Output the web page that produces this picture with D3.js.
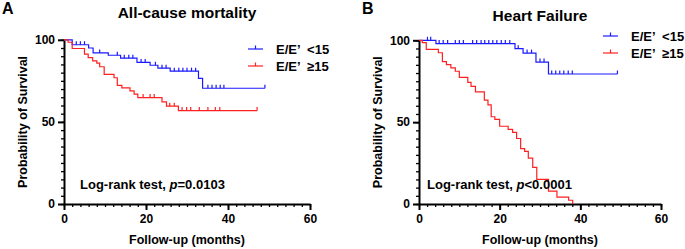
<!DOCTYPE html>
<html>
<head>
<meta charset="utf-8">
<script src="https://cdn.jsdelivr.net/npm/d3@7"></script>
<style>
  body { margin: 0; background: #fff; }
  text { font-family: "Liberation Sans", Arial, sans-serif; font-weight: bold; fill: #000; }
</style>
</head>
<body>
<div id="chart"></div>
<script>
// Panel A: all-cause mortality
const aLowTimes = [0, 2.0, 6.0, 7.1, 10.8, 13.8, 17.8, 21.0, 22.9, 25.9, 32.8, 33.8];
const aLowSurv = [100, 97.0, 95.0, 92.0, 90.6, 88.8, 86.2, 84.5, 82.7, 80.9, 76.5, 70.5];
const aLowCensor = [3.0, 4.0, 5.0, 8.7, 13.0, 14.7, 15.8, 16.8, 18.8, 19.8, 22.3, 23.9, 24.9, 26.9, 28.0, 29.0, 30.0, 31.1, 32.1, 35.1, 36.1, 37.1, 38.1, 39.0, 49.0];
const aHighTimes = [0, 1.0, 2.0, 5.0, 5.9, 7.0, 8.0, 8.7, 9.8, 12.2, 13.0, 14.1, 16.1, 17.1, 18.0, 23.9, 25.0, 27.9];
const aHighSurv = [100, 98.5, 94.7, 91.3, 89.2, 87.2, 85.8, 83.6, 79.0, 76.9, 72.3, 70.7, 68.9, 66.9, 64.8, 62.2, 59.6, 56.9];
const aHighCensor = [19.3, 21.0, 22.0, 25.8, 26.9, 28.8, 29.9, 30.9, 33.0, 35.1, 36.9, 38.0, 47.1];

// Panel B: heart failure
const bLowTimes = [0, 4.2, 23.8, 25.8, 29.0, 32.1];
const bLowSurv = [100, 98.0, 94.9, 92.2, 86.7, 79.4];
const bLowCensor = [2.1, 2.9, 5.0, 6.0, 7.1, 9.0, 10.0, 11.0, 13.3, 14.3, 15.4, 16.3, 17.3, 18.3, 19.3, 20.4, 21.4, 22.5, 24.6, 26.8, 27.9, 30.0, 31.0, 32.9, 33.9, 34.9, 35.9, 37.0, 38.0, 49.2];
const bHighTimes = [0, 0.8, 1.8, 4.8, 5.8, 6.8, 7.9, 9.0, 10.0, 12.1, 12.9, 14.0, 16.2, 17.1, 17.9, 18.8, 20.0, 22.1, 23.2, 24.2, 25.2, 26.2, 27.1, 28.2, 29.2, 32.1, 34.2, 37.1, 38.1];
const bHighSurv = [100, 98.6, 94.4, 92.4, 87.0, 85.2, 83.1, 81.1, 77.4, 74.3, 71.8, 68.5, 63.4, 60.5, 53.3, 51.7, 47.5, 45.6, 43.8, 40.0, 33.8, 32.1, 28.0, 22.4, 15.1, 7.9, 4.2, 2.3, 0];
const bHighCensor = [];

const xTicks = [0, 20, 40, 60];
const yTicks = [0, 50, 100];
const legendLabels = ["E/E\u2019  <15", "E/E\u2019  \u226515"];

const blue = "#1a1aff";
const red = "#ff2020";

const width = 685;
const height = 249;

const svg = d3.select("#chart").append("svg")
    .attr("width", width)
    .attr("height", height)
    .attr("viewBox", [0, 0, width, height]);

// survival level at time t (step function)
function survAt(times, surv, t) {
    let s = surv[0];
    for (let i = 0; i < times.length; i++) {
        if (times[i] <= t) s = surv[i];
    }
    return s;
}

function drawPanel(p) {
    const x = d3.scaleLinear().domain([0, 60]).range([p.left, p.right]);
    const y = d3.scaleLinear().domain([0, 100]).range([p.bottom, p.top]);
    const g = svg.append("g");

    // minor ticks
    g.append("g")
        .attr("transform", `translate(0,${p.bottom})`)
        .call(d3.axisBottom(x).tickValues(d3.range(0, 61, 2)).tickSize(3).tickFormat(""))
        .call(a => a.select(".domain").remove())
        .call(a => a.selectAll("line").attr("stroke-width", 1.3));
    g.append("g")
        .attr("transform", `translate(${p.left},0)`)
        .call(d3.axisLeft(y).tickValues(d3.range(0, 101, 5)).tickSize(3).tickFormat(""))
        .call(a => a.select(".domain").remove())
        .call(a => a.selectAll("line").attr("stroke-width", 1.3));

    // major axes
    const xa = g.append("g")
        .attr("transform", `translate(0,${p.bottom})`)
        .call(d3.axisBottom(x).tickValues(xTicks).tickSize(6).tickSizeOuter(0).tickPadding(4));
    const ya = g.append("g")
        .attr("transform", `translate(${p.left},0)`)
        .call(d3.axisLeft(y).tickValues(yTicks).tickSize(6).tickSizeOuter(0).tickPadding(3));
    [xa, ya].forEach(a => {
        a.select(".domain").attr("stroke-width", 2);
        a.selectAll(".tick line").attr("stroke-width", 2);
        a.selectAll("text").attr("font-size", 12).attr("font-family", "Liberation Sans, Arial").attr("font-weight", "bold").attr("fill", "#000");
    });

    const line = d3.line()
        .x(d => x(d[0]))
        .y(d => y(d[1]))
        .curve(d3.curveStepAfter);

    p.series.forEach(s => {
        const pts = s.times.map((t, i) => [t, s.surv[i]]);
        const last = d3.max(s.censor.concat(s.times));
        pts.push([last, survAt(s.times, s.surv, last)]);
        g.append("path")
            .attr("d", line(pts))
            .attr("fill", "none")
            .attr("stroke", s.color)
            .attr("stroke-width", 1.2);
        g.selectAll(null)
            .data(s.censor)
            .join("line")
            .attr("x1", d => x(d))
            .attr("x2", d => x(d))
            .attr("y1", d => y(survAt(s.times, s.surv, d)))
            .attr("y2", d => y(survAt(s.times, s.surv, d)) - 3.5)
            .attr("stroke", s.color)
            .attr("stroke-width", 1.2);
    });

    // legend
    p.series.forEach((s, i) => {
        const ly = p.legendY + i * 17;
        g.append("line")
            .attr("x1", p.legendX).attr("x2", p.legendX + 15)
            .attr("y1", ly).attr("y2", ly)
            .attr("stroke", s.color).attr("stroke-width", 1.2);
        g.append("line")
            .attr("x1", p.legendX + 7.5).attr("x2", p.legendX + 7.5)
            .attr("y1", ly).attr("y2", ly - 3.5)
            .attr("stroke", s.color).attr("stroke-width", 1.2);
        g.append("text")
            .attr("x", p.legendX + 28).attr("y", ly + 4.5)
            .attr("font-size", 13)
            .attr("xml:space", "preserve")
            .text(legendLabels[i]);
    });

    // titles
    g.append("text")
        .attr("x", p.panelX).attr("y", 14)
        .attr("font-size", 16)
        .text(p.letter);
    g.append("text")
        .attr("x", p.titleX).attr("y", p.titleY)
        .attr("text-anchor", "middle")
        .attr("font-size", 15.5)
        .text(p.title);
    g.append("text")
        .attr("x", (p.left + p.right) / 2).attr("y", 244)
        .attr("text-anchor", "middle")
        .attr("font-size", 12.5)
        .text("Follow-up (months)");
    g.append("text")
        .attr("transform", `translate(${p.yTitleX},${(p.top + p.bottom) / 2}) rotate(-90)`)
        .attr("text-anchor", "middle")
        .attr("font-size", 12.5)
        .text("Probability of Survival");

    const lr = g.append("text")
        .attr("x", p.logX).attr("y", 189)
        .attr("font-size", 13);
    lr.append("tspan").text("Log-rank test, ");
    lr.append("tspan").attr("font-style", "italic").text("p");
    lr.append("tspan").text(p.pText);
}

drawPanel({
    left: 64, right: 310, top: 39.8, bottom: 204,
    letter: "A", panelX: 2, title: "All-cause mortality", titleX: 187, titleY: 18,
    yTitleX: 27, legendX: 248, legendY: 49, logX: 80, pText: "=0.0103",
    series: [
        {times: aLowTimes, surv: aLowSurv, censor: aLowCensor, color: blue},
        {times: aHighTimes, surv: aHighSurv, censor: aHighCensor, color: red}
    ]
});

drawPanel({
    left: 419, right: 661, top: 40.3, bottom: 204,
    letter: "B", panelX: 362, title: "Heart Failure", titleX: 540, titleY: 21,
    yTitleX: 382, legendX: 603, legendY: 36, logX: 427, pText: "<0.0001",
    series: [
        {times: bLowTimes, surv: bLowSurv, censor: bLowCensor, color: blue},
        {times: bHighTimes, surv: bHighSurv, censor: bHighCensor, color: red}
    ]
});
</script>
</body>
</html>
